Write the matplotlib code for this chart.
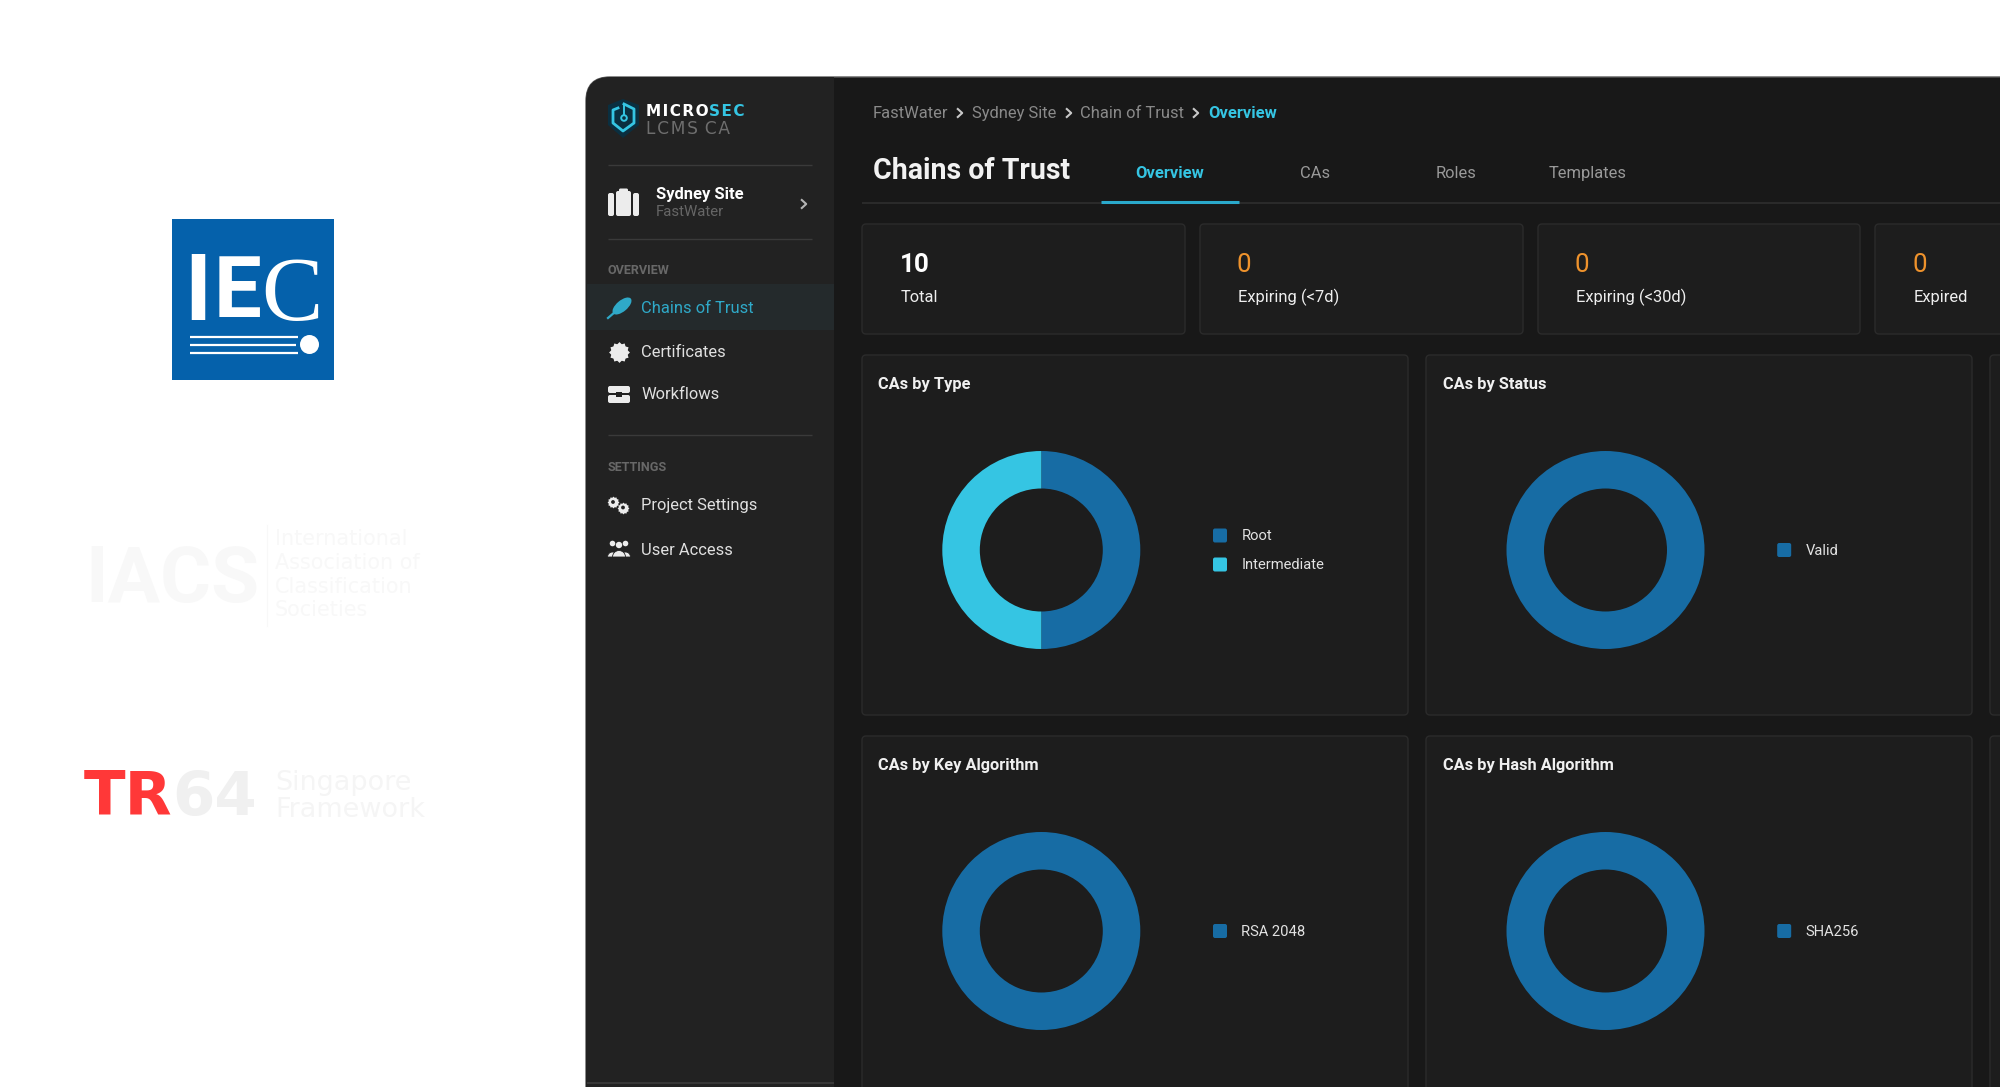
import matplotlib
matplotlib.use("Agg")
import matplotlib.pyplot as plt
from matplotlib.patches import FancyBboxPatch, Rectangle, Ellipse, Polygon, Circle, Wedge

W, H = 2000, 1087

# ---------- data ----------
kpi_labels = ["Total", "Expiring (<7d)", "Expiring (<30d)", "Expired"]
kpi_values = [10, 0, 0, 0]
type_labels = ["Root", "Intermediate"]
type_values = [5, 5]
status_labels = ["Valid"]
status_values = [10]
key_labels = ["RSA 2048"]
key_values = [10]
hash_labels = ["SHA256"]
hash_values = [10]
breadcrumb = ["FastWater", "Sydney Site", "Chain of Trust", "Overview"]
tabs = ["Overview", "CAs", "Roles", "Templates"]

# ---------- style ----------
BLUE, CYAN = "#176ca4", "#35c5e3"
ORANGE = "#ee922c"
MAIN, SIDE, CARD, EDGE = "#181818", "#222222", "#1d1d1d", "#2b2b2b"
FONT = "Roboto"

fig = plt.figure(figsize=(W / 100, H / 100), dpi=100, facecolor="white")
ax = fig.add_axes([0, 0, 1, 1])
ax.set_xlim(0, W)
ax.set_ylim(H, 0)
ax.axis("off")


def T(x, y, s, px, color="white", weight="normal", ha="left", family=FONT, **kw):
    # y is the vertical middle of the capitals
    return ax.text(x, y + 0.355 * px - 1, s, fontsize=px * 0.72, color=color, fontweight=weight,
                   ha=ha, va="baseline", family=family, **kw)


def box(x0, y0, x1, y1, fc, ec="none", r=3, lw=1, z=1):
    p = FancyBboxPatch((x0, y0), x1 - x0, y1 - y0, boxstyle=f"round,pad=0,rounding_size={r}",
                       fc=fc, ec=ec, lw=lw, zorder=z)
    ax.add_patch(p)
    return p


def line(x0, x1, y, color, lw=1.0, z=2):
    ax.plot([x0, x1], [y, y], color=color, lw=lw, solid_capstyle="butt", zorder=z)


def chevron(x, y, color, s=4.0):
    ax.plot([x - s * .55, x + s * .55, x - s * .55], [y - s, y, y + s], color=color, lw=1.5, zorder=3)


def gear(x, y, ms, color, n=4):
    for k in range(n):
        ax.plot([x], [y], marker=(4, 0, k * 90 / n), ms=ms, color=color, mec="none", zorder=3)


# ---------- left logos ----------
ax.add_patch(Rectangle((172, 219), 162, 161, fc="#0561ab", ec="none"))
T(184, 288, "I", 92, weight="bold")
T(214, 288, "E", 85, weight="bold")
T(261, 288, "C", 92, family="Liberation Serif")
for y, xe in ((336.5, 298), (344.5, 296), (352.5, 298)):
    line(190, xe, y, "white", lw=1.6)
ax.add_patch(Ellipse((309.5, 344.5), 19, 19, fc="white", ec="none", zorder=3))

FAINT = "#f8f8f8"
T(85, 575, "IACS", 78, color=FAINT, weight="bold")
ax.plot([267, 267], [525, 626], color=FAINT, lw=0.8)
for y, s in ((539, "International"), (563, "Association of"), (587, "Classification"), (610, "Societies")):
    T(275, y, s, 20.8, color=FAINT, family="DejaVu Sans")
T(84, 794, "TR", 61, color="#ff3838", weight="bold", family="DejaVu Sans")
T(172, 794, "64", 61, color="#f0f0f0", weight="bold", family="DejaVu Sans")
T(275, 781, "Singapore", 27, color="#f5f5f5", family="DejaVu Sans")
T(275, 808, "Framework", 27, color="#f5f5f5", family="DejaVu Sans")

# ---------- window ----------
panel = box(586, 77, W + 80, H + 80, MAIN, ec="#5a5a5a", r=24, lw=1, z=1)
side = ax.add_patch(Rectangle((586, 77), 248, H, fc=SIDE, ec="none", zorder=1.2))
side.set_clip_path(panel)
ax.add_patch(Rectangle((587, 284), 247, 46, fc="#242a2c", ec="none", zorder=1.3))
line(587, 834, 1083, "#3c3c3c", lw=1.2)

# logo
ax.add_patch(Polygon([(623, 99), (639, 105), (639, 125), (623, 138), (608, 125), (608, 105)],
                     fc="#0a2f40", ec="none", zorder=3))
ax.plot([624, 634, 634, 623, 613, 613, 618], [104, 109, 123, 131, 123, 110, 108],
        color=CYAN, lw=2, zorder=4)
ax.plot([624, 624], [104, 117], color=CYAN, lw=1.4, zorder=4)
ax.add_patch(Circle((624, 118), 2.8, fc="#0a2f40", ec=CYAN, lw=1.4, zorder=5))
T(646, 112, "M\u200aI\u200aC\u200aR\u200aO", 15.3, weight="bold", family="DejaVu Sans")
T(709, 112, "S\u200aE\u200aC", 15.3, color=CYAN, weight="bold", family="DejaVu Sans")
T(646, 129, "L\u200aC\u200aM\u200aS\u2009\u2009C\u200aA", 17, color="#6e6e6e", family="DejaVu Sans")

for y in (165, 239, 435):
    line(608, 812, y, "#3a3a3a")

# site row
BW = "#ececec"
box(608, 193, 614, 216, BW, r=2, z=3)
box(633, 193, 639, 216, BW, r=2, z=3)
box(616, 191, 631, 216, BW, r=2, z=3)
box(619, 188.5, 628, 194, BW, r=1.5, z=3)
T(656, 194, "Sydney Site", 16.5, weight="bold")
T(656, 212, "FastWater", 15, color="#666666")
chevron(804, 204, "#b5b5b5")

# nav
T(608, 271, "OVERVIEW", 12.6, color="#686868", weight="bold")
T(608, 468, "SETTINGS", 12.6, color="#686868", weight="bold")
NAV = "#e0e0e0"
T(641, 308, "Chains of Trust", 16.5, color="#2fa9c8")
T(641, 352, "Certificates", 16.5, color=NAV)
T(641, 394, "Workflows", 16.5, color=NAV)
T(641, 505, "Project Settings", 16.5, color=NAV)
T(641, 550, "User Access", 16.5, color=NAV)

# nav icons
ax.add_patch(Ellipse((622, 306), 11, 23, angle=50, fc="#2fa9c8", ec="none", zorder=3))
ax.plot([608, 622], [318, 306], color="#2fa9c8", lw=1.6, zorder=3)
gear(619, 351.5, 15, "#ececec", n=3)
box(608, 386, 630, 393, BW, r=2, z=3)
box(608, 395, 630, 403, BW, r=2, z=3)
ax.add_patch(Rectangle((616, 392), 6, 5, fc=SIDE, ec="none", zorder=4))
for (x, y) in ((613, 502), (623, 507.5)):
    gear(x, y, 8.5, BW, n=3)
    ax.add_patch(Circle((x, y), 1.9, fc=SIDE, ec="none", zorder=4))
for (x, y, r, wr) in ((612.5, 543.5, 2.8, 5), (625.5, 543.5, 2.8, 5), (619, 545, 3.2, 6.5)):
    ax.add_patch(Circle((x, y), r, fc=BW, ec="none", zorder=3))
    ax.add_patch(Wedge((x, 557), wr, 180, 360, fc=BW, ec=SIDE, lw=0.6, zorder=3))

# ---------- header ----------
bc_x = [873, 972, 1080, 1208]
for i, (x, s) in enumerate(zip(bc_x, breadcrumb)):
    last = i == len(breadcrumb) - 1
    T(x, 113.5, s, 16.5, color=CYAN if last else "#8a8a8a", weight="bold" if last else "normal")
for x in (960, 1069, 1196):
    chevron(x, 113, "#c8c8c8")
T(873, 170, "Chains of Trust", 28.5, weight="bold", color="#f2f2f2")
tab_x = [1170, 1315, 1456, 1588]
for i, (x, s) in enumerate(zip(tab_x, tabs)):
    T(x, 173, s, 16.5, color=CYAN if i == 0 else "#999999", ha="center", weight="bold" if i == 0 else "normal")
line(862, W, 202.5, "#2a2a2a", lw=1.5)
line(1101, 1239, 202, "#2aa9cb", lw=2.2, z=3)

# ---------- KPI cards ----------
kpi_box = [(862, 1185), (1200, 1523), (1538, 1860), (1875, W + 40)]
kpi_tx = [900, 1237, 1575, 1913]
for (x0, x1), tx, lab, val in zip(kpi_box, kpi_tx, kpi_labels, kpi_values):
    box(x0, 224, x1, 334, CARD, ec=EDGE, r=4, lw=1, z=1.5)
    T(tx, 264, str(val), 26, color="white" if val else ORANGE, weight="bold" if val else "normal")
    T(tx + 1, 297, lab, 16.5, color="#eeeeee")

# ---------- chart cards ----------
for (x0, x1) in ((862, 1408), (1426, 1972), (1990, W + 40)):
    box(x0, 355, x1, 715, CARD, ec=EDGE, r=4, lw=1, z=1.5)
    box(x0, 736, x1, H + 40, CARD, ec=EDGE, r=4, lw=1, z=1.5)

charts = [
    ("CAs by Type", type_labels, type_values, 878, 384, 1041.3, 550),
    ("CAs by Status", status_labels, status_values, 1443, 384, 1605.5, 550),
    ("CAs by Key Algorithm", key_labels, key_values, 878, 765, 1041.3, 931),
    ("CAs by Hash Algorithm", hash_labels, hash_values, 1443, 765, 1605.5, 931),
]
COLORS = [BLUE, CYAN]
R, RIN = 99, 61.5
for title, labels, values, tx, ty, cx, cy in charts:
    T(tx, ty, title, 16.35, weight="bold", color="#f0f0f0")
    a = fig.add_axes([(cx - R) / W, 1 - (cy + R) / H, 2 * R / W, 2 * R / H])
    a.pie(values, radius=1, startangle=90, counterclock=False, colors=COLORS[:len(values)],
          wedgeprops=dict(width=1 - RIN / R, edgecolor="none"))
    a.set_xlim(-1, 1)
    a.set_ylim(-1, 1)
    a.set_aspect("auto")
    a.patch.set_alpha(0)
    lx = cx + 171.7
    step = 29
    y0 = cy - step * (len(labels) - 1) / 2
    for i, lab in enumerate(labels):
        y = y0 + i * step
        box(lx, y - 7, lx + 14, y + 7, COLORS[i], r=2, z=3)
        T(lx + 28.3, y + 0.5, lab, 14.7, color="#e2e2e2")

fig.savefig("out.png", dpi=100)
